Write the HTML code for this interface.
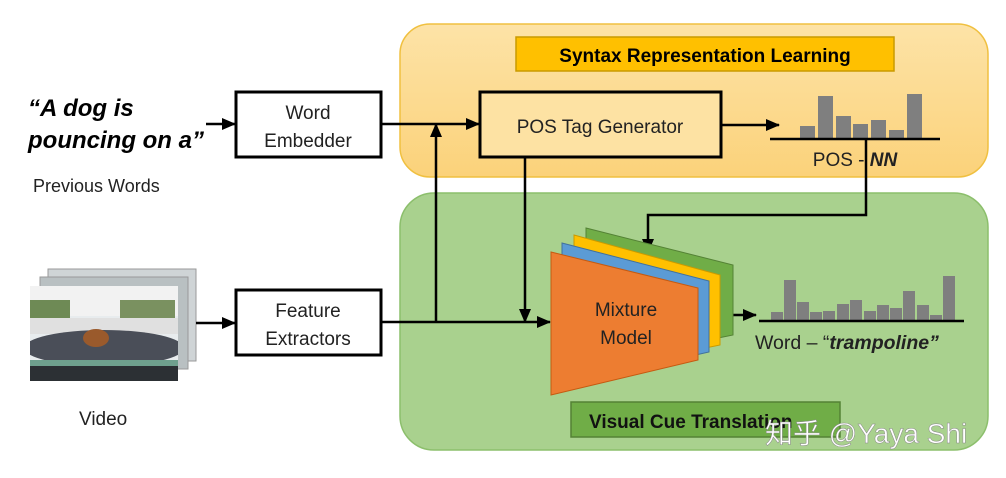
<!DOCTYPE html>
<html><head><meta charset="utf-8"><style>
html,body{margin:0;padding:0;background:#fff;}
svg{display:block;font-family:"Liberation Sans","Noto Sans CJK SC",sans-serif;}
</style></head><body>
<svg width="1006" height="478" viewBox="0 0 1006 478" xmlns="http://www.w3.org/2000/svg">
<defs>
<marker id="a" markerWidth="14" markerHeight="12" refX="13" refY="6" orient="auto" markerUnits="userSpaceOnUse" viewBox="0 0 14 12"><path d="M0,0 L14,6 L0,12 z" fill="#000"/></marker>
<linearGradient id="yg" x1="0" y1="0" x2="0" y2="1"><stop offset="0" stop-color="#fde3a7"/><stop offset="1" stop-color="#fbd27a"/></linearGradient>
<clipPath id="vc"><rect x="30" y="286" width="148" height="95"/></clipPath>
</defs>
<rect x="400" y="24" width="588" height="153" rx="30" fill="url(#yg)" stroke="#f0c040" stroke-width="1.5"/>
<rect x="400" y="193" width="588" height="257" rx="34" fill="#a9d18e" stroke="#8cbf6c" stroke-width="1.5"/>
<rect x="516" y="37" width="378" height="34" fill="#ffc000" stroke="#c99a00" stroke-width="1.5"/>
<text x="705" y="62" font-size="19" font-weight="bold" text-anchor="middle">Syntax Representation Learning</text>

<text x="28" y="116" font-size="24" font-weight="bold" font-style="italic">“A dog is</text>
<text x="28" y="148" font-size="24" font-weight="bold" font-style="italic">pouncing on a”</text>
<text x="33" y="192" font-size="18" fill="#222">Previous Words</text>
<text x="79" y="425" font-size="19" fill="#222">Video</text>

<rect x="236" y="92" width="145" height="65" fill="#fff" stroke="#000" stroke-width="3"/>
<text x="308" y="119" font-size="19" text-anchor="middle" fill="#222">Word</text>
<text x="308" y="147" font-size="19" text-anchor="middle" fill="#222">Embedder</text>
<rect x="480" y="92" width="241" height="65" fill="#fde2a3" stroke="#000" stroke-width="3"/>
<text x="600" y="133" font-size="19" text-anchor="middle" fill="#222">POS Tag Generator</text>
<rect x="236" y="290" width="145" height="65" fill="#fff" stroke="#000" stroke-width="3"/>
<text x="308" y="317" font-size="19" text-anchor="middle" fill="#222">Feature</text>
<text x="308" y="345" font-size="19" text-anchor="middle" fill="#222">Extractors</text>

<g>
<rect x="48" y="269" width="148" height="92" fill="#cfd4d6" stroke="#999"/>
<rect x="40" y="277" width="148" height="92" fill="#b9c0c2" stroke="#999"/>
<g clip-path="url(#vc)">
<rect x="30" y="286" width="148" height="95" fill="#e8ecee"/>
<rect x="30" y="286" width="148" height="30" fill="#f2f2f2"/>
<rect x="30" y="300" width="40" height="20" fill="#6e8a55"/>
<rect x="120" y="300" width="55" height="18" fill="#7a9160"/>
<rect x="30" y="318" width="148" height="16" fill="#e0e0e0"/>
<ellipse cx="104" cy="348" rx="80" ry="18" fill="#4a4e58"/>
<rect x="30" y="360" width="148" height="21" fill="#2c3034"/>
<rect x="30" y="360" width="148" height="6" fill="#6fa08e"/>
<ellipse cx="96" cy="338" rx="13" ry="9" fill="#9a5a2c"/>
</g>
</g>

<g stroke="#000" stroke-width="2.5" fill="none">
<line x1="206" y1="124" x2="235" y2="124" marker-end="url(#a)"/>
<line x1="381" y1="124" x2="479" y2="124" marker-end="url(#a)"/>
<line x1="721" y1="125" x2="779" y2="125" marker-end="url(#a)"/>
<line x1="436" y1="322" x2="436" y2="124" marker-end="url(#a)"/>
<line x1="196" y1="323" x2="235" y2="323" marker-end="url(#a)"/>
<line x1="381" y1="322" x2="550" y2="322" marker-end="url(#a)"/>
<line x1="525" y1="157" x2="525" y2="322" marker-end="url(#a)"/>
<polyline points="866,140 866,215 648,215 648,252" marker-end="url(#a)"/>
<line x1="708" y1="315" x2="756" y2="315" marker-end="url(#a)"/>
</g>

<g fill="#7f7f7f">
<rect x="800" y="126" width="15" height="12"/>
<rect x="818" y="96" width="15" height="42"/>
<rect x="836" y="116" width="15" height="22"/>
<rect x="853" y="124" width="15" height="14"/>
<rect x="871" y="120" width="15" height="18"/>
<rect x="889" y="130" width="15" height="8"/>
<rect x="907" y="94" width="15" height="44"/>
</g>
<line x1="770" y1="139" x2="940" y2="139" stroke="#000" stroke-width="2.5"/>
<text x="855" y="166" font-size="19" text-anchor="middle" fill="#222">POS - <tspan font-weight="bold" font-style="italic">NN</tspan></text>

<polygon points="586,228 733,265 733,335 586,365" fill="#70ad47" stroke="#548235"/>
<polygon points="574,235 720,275 720,345 574,375" fill="#ffc000" stroke="#c99a00"/>
<polygon points="562,243 709,281 709,352 562,385" fill="#5b9bd5" stroke="#41719c"/>
<polygon points="551,252 698,288 698,360 551,395" fill="#ed7d31" stroke="#c55a11"/>
<text x="626" y="316" font-size="19" text-anchor="middle" fill="#222">Mixture</text>
<text x="626" y="344" font-size="19" text-anchor="middle" fill="#222">Model</text>

<g fill="#7f7f7f">
<rect x="771" y="312" width="12" height="9"/>
<rect x="784" y="280" width="12" height="41"/>
<rect x="797" y="302" width="12" height="19"/>
<rect x="810" y="312" width="12" height="9"/>
<rect x="823" y="311" width="12" height="10"/>
<rect x="837" y="304" width="12" height="17"/>
<rect x="850" y="300" width="12" height="21"/>
<rect x="864" y="311" width="12" height="10"/>
<rect x="877" y="305" width="12" height="16"/>
<rect x="890" y="308" width="12" height="13"/>
<rect x="903" y="291" width="12" height="30"/>
<rect x="917" y="305" width="12" height="16"/>
<rect x="930" y="315" width="12" height="6"/>
<rect x="943" y="276" width="12" height="45"/>
</g>
<line x1="759" y1="321" x2="964" y2="321" stroke="#000" stroke-width="2.5"/>
<text x="755" y="349" font-size="19.5" fill="#222">Word – “<tspan font-weight="bold" font-style="italic">trampoline”</tspan></text>

<rect x="571" y="402" width="269" height="35" fill="#70ad47" stroke="#548235" stroke-width="1.5"/>
<text x="589" y="428" font-size="19" font-weight="bold" fill="#111">Visual Cue Translation</text>
<text x="765" y="443" font-size="28" fill="#fff" stroke="#888" stroke-width="0.5">知乎 @Yaya Shi</text>
</svg>
</body></html>
